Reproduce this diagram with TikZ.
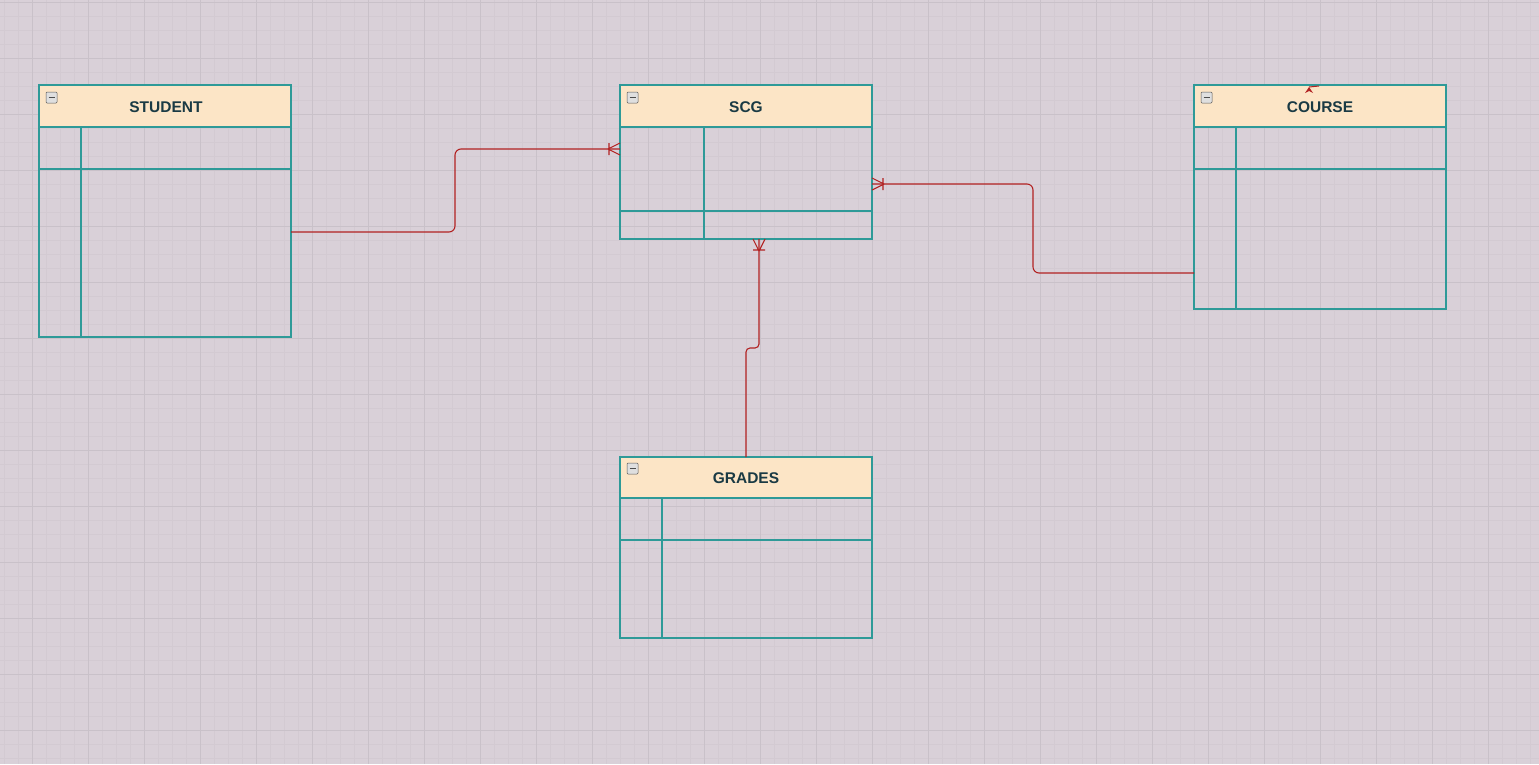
\documentclass[tikz,border=0pt]{standalone}
\usepackage{fontspec}
\setmainfont{Liberation Sans}
\begin{document}
\begin{tikzpicture}[x=1pt,y=-1pt,
  tb/.style={draw=tealc,line width=1.3pt},
  hd/.style={draw=tealc,line width=1.3pt,fill=headc},
  ttl/.style={font=\bfseries\fontsize{15.5}{18}\selectfont,text=txtc},
  con/.style={draw=redc,line width=1.1pt,rounded corners=6pt},
  crow/.style={draw=redc,line width=1.1pt}]
\definecolor{bgc}{HTML}{D9D0D8}
\definecolor{gridc}{HTML}{D3CAD2}
\definecolor{gridm}{HTML}{C9C1C9}
\definecolor{tealc}{HTML}{2E9A98}
\definecolor{headc}{HTML}{FCE5C6}
\definecolor{txtc}{HTML}{1A3A44}
\definecolor{redc}{HTML}{B22222}
\useasboundingbox (0,0) rectangle (1539,764);
\fill[bgc] (0,0) rectangle (1539,764);
\foreach \i in {0,...,110} {\draw[gridc,line width=0.3pt] (\i*14+4,0) -- (\i*14+4,764);}
\foreach \i in {0,...,55} {\draw[gridc,line width=0.3pt] (0,\i*14+2) -- (1539,\i*14+2);}
\foreach \i in {0,...,27} {\draw[gridm,line width=0.6pt] (\i*56+32,0) -- (\i*56+32,764);}
\foreach \i in {0,...,13} {\draw[gridm,line width=0.6pt] (0,\i*56+2) -- (1539,\i*56+2);}
\newcommand{\minusicon}[2]{\draw[gray!70!black,fill=gray!25,rounded corners=1pt,line width=0.5pt] (#1,#2) rectangle ++(11,11); \draw[black!70,line width=1.6pt] (#1+2.5,#2+5.5) -- ++(6,0);}
% STUDENT
\draw[hd] (39,85) rectangle (291,127);
\node[ttl] (student) at (166,107) {STUDENT};
\draw[tb] (39,127) rectangle (291,337);
\draw[tb] (39,169) -- (291,169) (81,127) -- (81,337);
\minusicon{46}{92}
% SCG
\draw[hd] (620,85) rectangle (872,127);
\node[ttl] (scg) at (746,107) {SCG};
\draw[tb] (620,127) rectangle (872,239);
\draw[tb] (620,211) -- (872,211) (704,127) -- (704,239);
\minusicon{627}{92}
% COURSE
\draw[hd] (1194,85) rectangle (1446,127);
\node[ttl] (course) at (1320,107) {COURSE};
\draw[tb] (1194,127) rectangle (1446,309);
\draw[tb] (1194,169) -- (1446,169) (1236,127) -- (1236,309);
\minusicon{1201}{92}
% GRADES
\draw[hd] (620,457) rectangle (872,498);
\node[ttl] (grades) at (746,478) {GRADES};
\draw[tb] (620,498) rectangle (872,638);
\draw[tb] (620,540) -- (872,540) (662,498) -- (662,638);
\minusicon{627}{463}
% connectors
\coordinate (s1) at (291,232); \coordinate (g1) at (620,149);
\draw[con] (s1) -- (455,232) -- (455,149) -- (g1);
\draw[crow] (609,143) -- (609,155) (608,149) -- (620,143) (608,149) -- (620,155);
\coordinate (c1) at (1194,273); \coordinate (g2) at (872,184);
\draw[con] (c1) -- (1033,273) -- (1033,184) -- (g2);
\draw[crow] (883,178) -- (883,190) (884,184) -- (872,178) (884,184) -- (872,190);
\coordinate (r1) at (746,457); \coordinate (g3) at (759,239);
\draw[con,rounded corners=4pt] (r1) -- (746,348) -- (759,348) -- (g3);
\draw[crow] (753,250) -- (765,250) (759,251) -- (753,239) (759,251) -- (765,239);
\fill[redc] (1309,87) -- (1305,93) -- (1309,91) -- (1313,93) -- cycle;
\draw[redc,line width=1pt] (1309,87) -- (1319,86);
\end{tikzpicture}
\end{document}
